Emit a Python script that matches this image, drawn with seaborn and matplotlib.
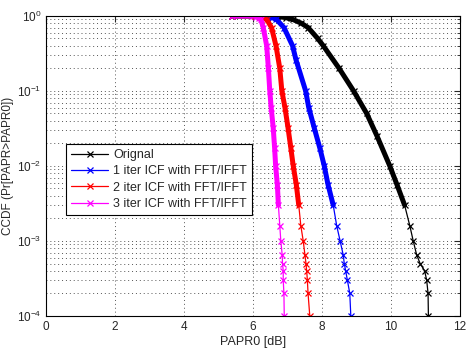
import pandas as pd
import matplotlib
matplotlib.use("Agg")
import matplotlib.pyplot as plt
import seaborn as sns

# ------------------------------------------------------------------
# CCDF of PAPR
# ------------------------------------------------------------------
papr_orig = [5.4, 6.3, 6.7, 6.95, 7.15, 7.4, 7.6, 7.88, 8.04, 8.5, 8.92, 9.3, 9.6, 9.97,
             10.18, 10.4, 10.55, 10.65, 10.75, 10.85, 10.98, 11.04, 11.08, 11.09]
ccdf_orig = [1.0, 1.0, 0.98, 0.95, 0.9, 0.8, 0.7, 0.5, 0.4, 0.2, 0.1, 0.05, 0.025, 0.01,
             0.0056, 0.003, 0.0016, 0.001, 0.00065, 0.0005, 0.0004, 0.0003, 0.0002, 0.0001]

papr_icf1 = [5.4, 6.2, 6.4, 6.55, 6.68, 6.9, 7.15, 7.25, 7.53, 7.62, 7.78, 7.94, 8.07,
             8.18, 8.33, 8.43, 8.53, 8.62, 8.65, 8.69, 8.74, 8.81, 8.84]
ccdf_icf1 = [1.0, 1.0, 0.98, 0.95, 0.9, 0.7, 0.4, 0.26, 0.1, 0.06, 0.032, 0.0174, 0.01,
             0.0056, 0.003, 0.0016, 0.001, 0.00065, 0.0005, 0.0004, 0.0003, 0.0002, 0.0001]

papr_icf2 = [5.4, 6.05, 6.2, 6.3, 6.4, 6.54, 6.67, 6.78, 6.84, 6.93, 7.02, 7.1, 7.17,
             7.26, 7.33, 7.39, 7.46, 7.51, 7.54, 7.56, 7.58, 7.6, 7.65]
ccdf_icf2 = [1.0, 1.0, 0.98, 0.95, 0.9, 0.7, 0.4, 0.2, 0.1, 0.06, 0.032, 0.0174, 0.01,
             0.0056, 0.003, 0.0016, 0.001, 0.00065, 0.0005, 0.0004, 0.0003, 0.0002, 0.0001]

papr_icf3 = [5.4, 6.0, 6.1, 6.18, 6.23, 6.3, 6.4, 6.45, 6.49, 6.53, 6.59, 6.63, 6.66,
             6.71, 6.74, 6.78, 6.81, 6.85, 6.86, 6.88, 6.88, 6.9, 6.91]
ccdf_icf3 = [1.0, 1.0, 0.98, 0.95, 0.9, 0.7, 0.4, 0.2, 0.1, 0.06, 0.032, 0.0174, 0.01,
             0.0056, 0.003, 0.0016, 0.001, 0.00065, 0.0005, 0.0004, 0.0003, 0.0002, 0.0001]

labels = ["Orignal", "1 iter ICF with FFT/IFFT", "2 iter ICF with FFT/IFFT",
          "3 iter ICF with FFT/IFFT"]
colors = ["#000000", "#0000ff", "#ff0000", "#ff00ff"]
series = [(papr_orig, ccdf_orig), (papr_icf1, ccdf_icf1),
          (papr_icf2, ccdf_icf2), (papr_icf3, ccdf_icf3)]

# ------------------------------------------------------------------
# Style (MATLAB-ish)
# ------------------------------------------------------------------
sns.set_style("white")
plt.rcParams['font.family'] = ['Liberation Sans', 'DejaVu Sans']
plt.rcParams['font.size'] = 8.5
plt.rcParams['axes.edgecolor'] = '#000000'
plt.rcParams['axes.linewidth'] = 0.8

fig = plt.figure(figsize=(4.74, 3.53), dpi=100)
ax = fig.add_axes([0.097, 0.105, 0.873, 0.85])

handles = []
for (x, y), lab, col in zip(series, labels, colors):
    df = pd.DataFrame({"PAPR0": x, "CCDF": y})
    # dense-marker region looks like a thick band in the original
    thick = df[df["CCDF"] >= 0.002]
    sns.lineplot(data=thick, x="PAPR0", y="CCDF", color=col, linewidth=3.6,
                 sort=False, estimator=None, legend=False, ax=ax)
    sns.lineplot(data=df, x="PAPR0", y="CCDF", color=col, linewidth=0.9,
                 marker="x", markersize=4, markeredgewidth=0.9, markeredgecolor=col,
                 sort=False, estimator=None, legend=False, ax=ax)
    handles.append(plt.Line2D([], [], color=col, linewidth=0.9, marker="x",
                              markersize=4, markeredgewidth=0.9, markeredgecolor=col))

ax.set_yscale("log")
ax.set_xlim(0, 12)
ax.set_ylim(1e-4, 1)
ax.set_xticks(range(0, 13, 2))
ax.minorticks_on()
ax.xaxis.set_minor_locator(matplotlib.ticker.NullLocator())

grid_style = dict(linestyle=(0, (1, 3)), color="#555555", linewidth=0.7)
ax.grid(True, which="major", **grid_style)
ax.grid(True, which="minor", axis="y", **grid_style)
ax.tick_params(which="both", direction="in", top=True, right=True, labelsize=8.5)
ax.tick_params(which="major", length=4)
ax.tick_params(which="minor", length=2)

ax.set_xlabel("PAPR0 [dB]", fontsize=9, labelpad=2)
ax.set_ylabel("CCDF (Pr[PAPR>PAPR0])", fontsize=8.5, labelpad=2)

leg = ax.legend(handles, labels, loc="upper left", bbox_to_anchor=(0.048, 0.573),
                fontsize=9, frameon=True, fancybox=False, framealpha=1,
                edgecolor="#000000", handlelength=3.0, handletextpad=0.4,
                labelspacing=0.35, borderpad=0.4, borderaxespad=0)
leg.get_frame().set_linewidth(0.8)

plt.savefig("out.png", dpi=100)
